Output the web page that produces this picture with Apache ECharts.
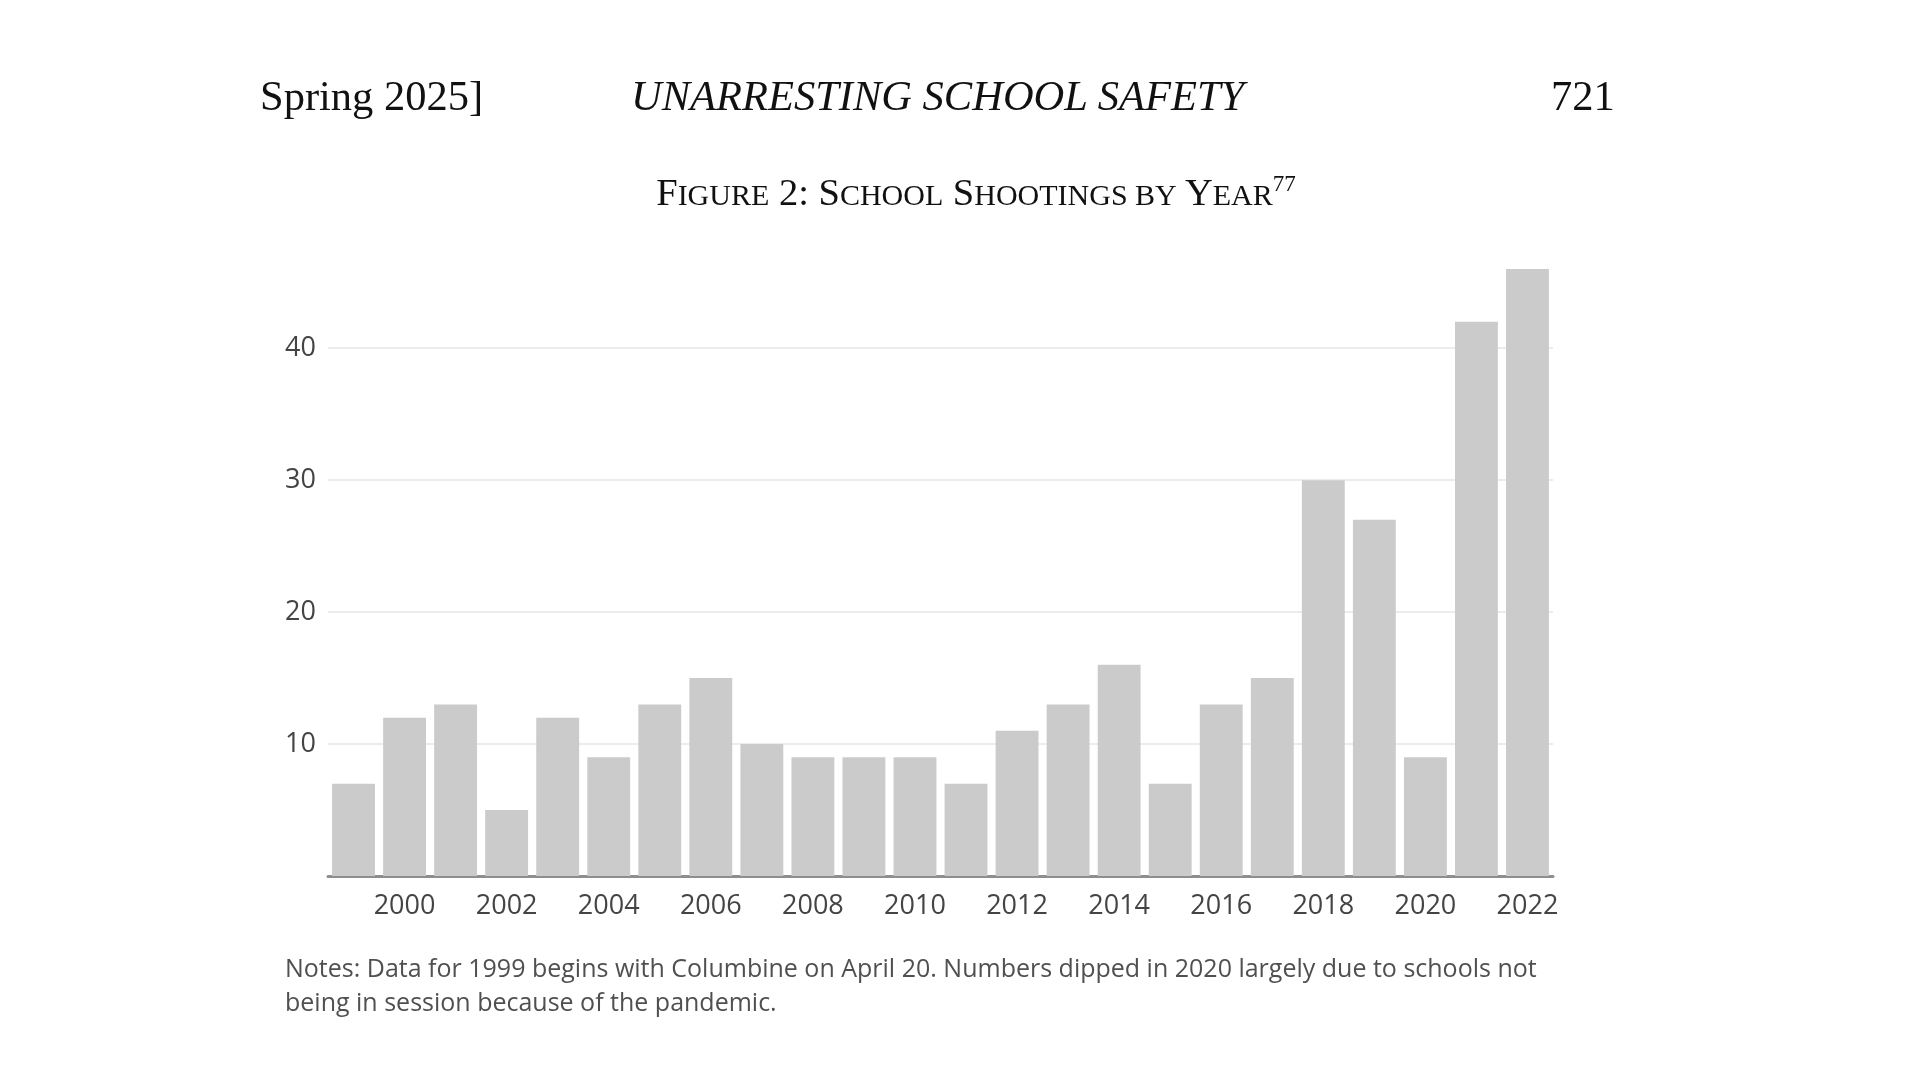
<!DOCTYPE html>
<html>
<head>
<meta charset="utf-8">
<title>School Shootings by Year</title>
<script src="https://cdn.jsdelivr.net/npm/echarts@6/dist/echarts.min.js"></script>
<style>
  html, body { margin: 0; padding: 0; background: #fff; }
  #page { position: relative; width: 1920px; height: 1080px; overflow: hidden; }
  #chart { position: absolute; left: 0; top: 0; width: 1920px; height: 1080px; }
  .hdr { position: absolute; font-family: "Liberation Serif", "Times New Roman", serif; color: #111; white-space: nowrap; line-height: 42px; font-size: 42.5px; }
  #cap { position: absolute; left: 0; width: 1952px; text-align: center; top: 173px; font-family: "Liberation Serif", serif; color: #111; font-size: 38.5px; line-height: 38px; white-space: nowrap; }
  #cap .s { font-size: 30px; }
  #cap sup { font-size: 23px; vertical-align: 14px; line-height: 0; }
</style>
</head>
<body>
<div id="page">
  <div id="chart"></div>
  <div class="hdr" style="left:260px;top:75px;">Spring 2025]</div>
  <div class="hdr" style="left:631px;top:75px;font-style:italic;">UNARRESTING SCHOOL SAFETY</div>
  <div class="hdr" style="left:1551px;top:75px;">721</div>
  <div id="cap">F<span class="s">IGURE</span> 2: S<span class="s">CHOOL</span> S<span class="s">HOOTINGS BY</span> Y<span class="s">EAR</span><sup>77</sup></div>
</div>
<script>
  var years = ["1999", "2000", "2001", "2002", "2003", "2004", "2005", "2006",
    "2007", "2008", "2009", "2010", "2011", "2012", "2013", "2014",
    "2015", "2016", "2017", "2018", "2019", "2020", "2021", "2022"];
  var shootings = [7, 12, 13, 5, 12, 9, 13, 15, 10, 9, 9, 9, 7, 11, 13, 16,
    7, 13, 15, 30, 27, 9, 42, 46];
  var yTicks = [10, 20, 30, 40];
  var notesLines = [
    "Notes: Data for 1999 begins with Columbine on April 20. Numbers dipped in 2020 largely due to schools not",
    "being in session because of the pandemic."
  ];

  var labelFont = "'Open Sans', 'Liberation Sans', sans-serif";

  var chart = echarts.init(document.getElementById("chart"), null, { renderer: "canvas" });
  chart.setOption({
    animation: false,
    grid: { left: 328, right: 367, top: 269, bottom: 204, containLabel: false },
    xAxis: {
      type: "category",
      data: years,
      axisLine: { show: true, lineStyle: { color: "#8e8e8e", width: 3 } },
      axisTick: { show: false },
      axisLabel: {
        interval: function (idx) { return idx % 2 === 1; },
        color: "#444",
        fontFamily: labelFont,
        fontSize: 27,
        margin: 17
      },
      splitLine: { show: false }
    },
    yAxis: {
      type: "value",
      min: 0,
      max: 46,
      interval: 10,
      axisLine: { show: false },
      axisTick: { show: false },
      axisLabel: {
        color: "#444",
        fontFamily: labelFont,
        fontSize: 27,
        margin: 12,
        formatter: function (v) { return yTicks.indexOf(v) >= 0 ? String(v) : ""; }
      },
      splitLine: {
        show: true,
        showMinLine: false,
        showMaxLine: false,
        lineStyle: { color: "#ececec", width: 2 }
      }
    },
    series: [{
      type: "bar",
      data: shootings,
      barCategoryGap: "16%",
      itemStyle: { color: "#cbcbcb" },
      silent: true
    }],
    graphic: [{
      type: "text",
      left: 285,
      top: 953,
      style: {
        text: notesLines.join("\n"),
        fill: "#505050",
        font: "25px " + labelFont,
        lineHeight: 34
      }
    }]
  });
</script>
</body>
</html>
